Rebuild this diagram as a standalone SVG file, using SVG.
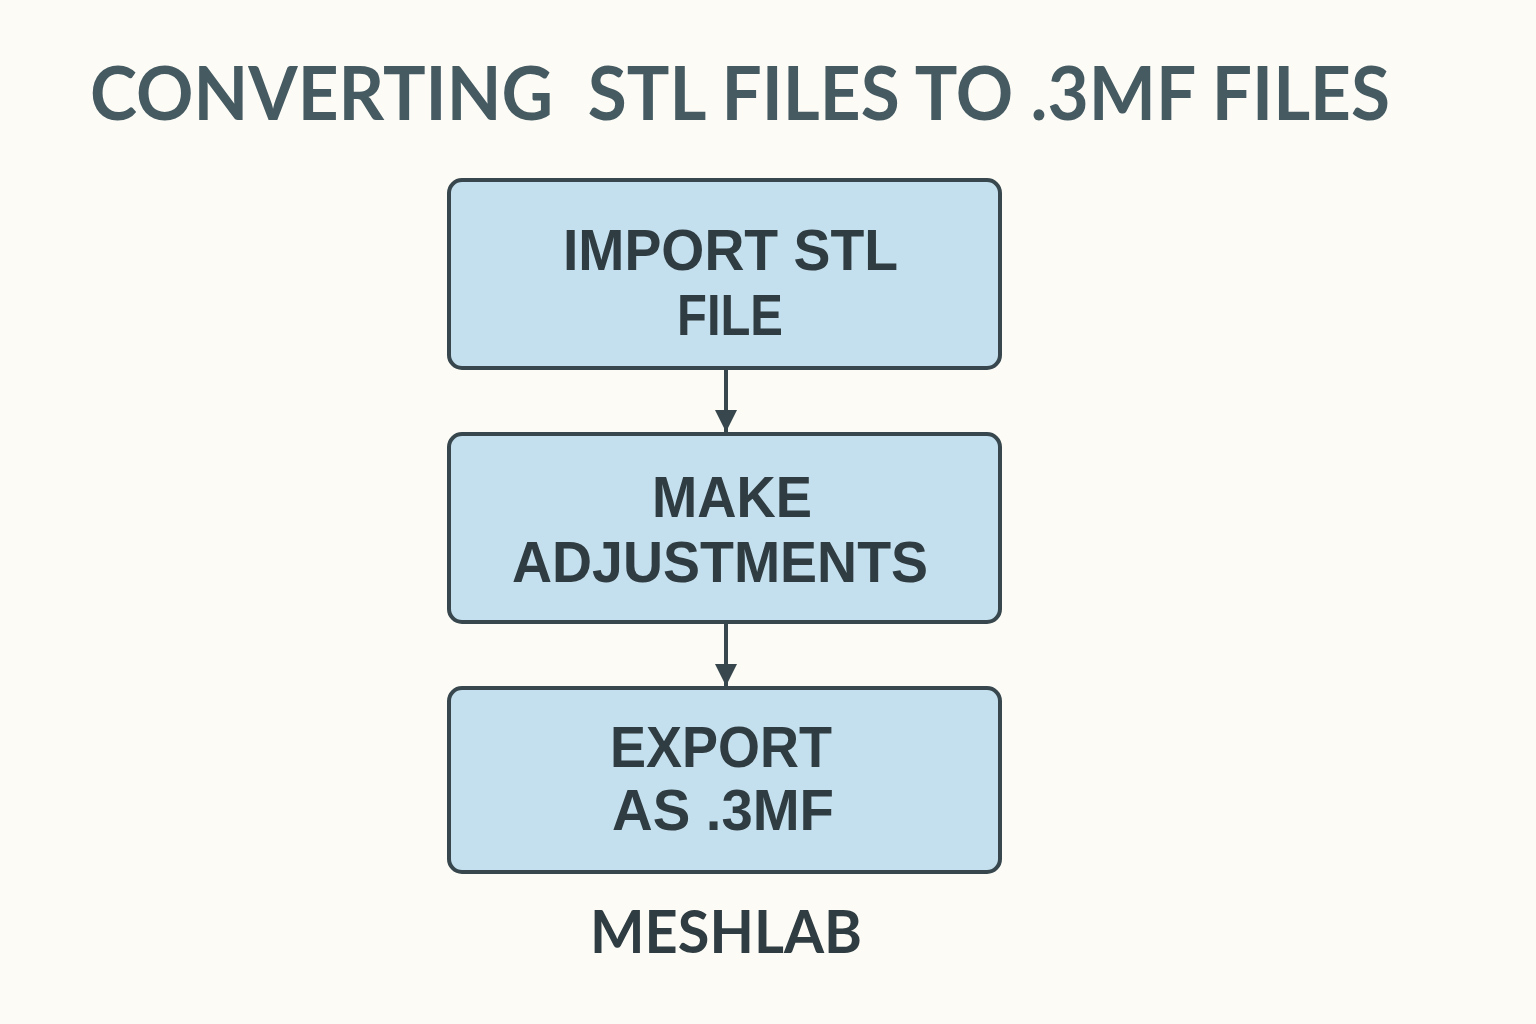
<svg xmlns="http://www.w3.org/2000/svg" width="1536" height="1024" viewBox="0 0 1536 1024">
<defs>
<style>
.bg{fill:#fcfbf6}
.box{fill:#c4dfed;stroke:#37474d;stroke-width:4}
.t{font-family:"Liberation Sans","DejaVu Sans",sans-serif;font-weight:bold;fill:#2f3c41;font-size:58px}
.m{font-family:Lato,"Liberation Sans","DejaVu Sans",sans-serif;font-weight:bold;fill:#2f3c41;font-size:60px}
.title{font-family:Lato,"Liberation Sans","DejaVu Sans",sans-serif;font-weight:bold;fill:#455a61;font-size:74px}
.conn{stroke:#37474d;stroke-width:4;fill:none}
</style>
<marker id="arr" viewBox="0 0 10 10" refX="10" refY="5" markerWidth="5.5" markerHeight="6" markerUnits="strokeWidth" orient="auto">
<path d="M0,0 L10,5 L0,10 Z" fill="#37474d"/>
</marker>
</defs>
<rect class="bg" x="0" y="0" width="1536" height="1024"/>
<text id="title" class="title" x="90" y="120" textLength="1300" lengthAdjust="spacingAndGlyphs" xml:space="preserve">CONVERTING  STL FILES TO .3MF FILES</text>
<g id="connectors">
<line class="conn" x1="726" y1="368" x2="726" y2="432" marker-end="url(#arr)"/>
<line class="conn" x1="726" y1="622" x2="726" y2="686" marker-end="url(#arr)"/>
</g>
<g id="node-import">
<rect class="box" x="449" y="180" width="551" height="188" rx="13"/>
<text class="t"><tspan x="563" y="270" textLength="335" lengthAdjust="spacingAndGlyphs">IMPORT STL</tspan><tspan x="677" y="335" textLength="106" lengthAdjust="spacingAndGlyphs">FILE</tspan></text>
</g>
<g id="node-adjust">
<rect class="box" x="449" y="434" width="551" height="188" rx="13"/>
<text class="t"><tspan x="652" y="517" textLength="160" lengthAdjust="spacingAndGlyphs">MAKE</tspan><tspan x="512" y="582" textLength="416" lengthAdjust="spacingAndGlyphs">ADJUSTMENTS</tspan></text>
</g>
<g id="node-export">
<rect class="box" x="449" y="688" width="551" height="184" rx="13"/>
<text class="t"><tspan x="610" y="767" textLength="222" lengthAdjust="spacingAndGlyphs">EXPORT</tspan><tspan x="612" y="830" textLength="222" lengthAdjust="spacingAndGlyphs">AS .3MF</tspan></text>
</g>
<text id="meshlab" class="m" x="590" y="953" textLength="272" lengthAdjust="spacingAndGlyphs">MESHLAB</text>
</svg>
